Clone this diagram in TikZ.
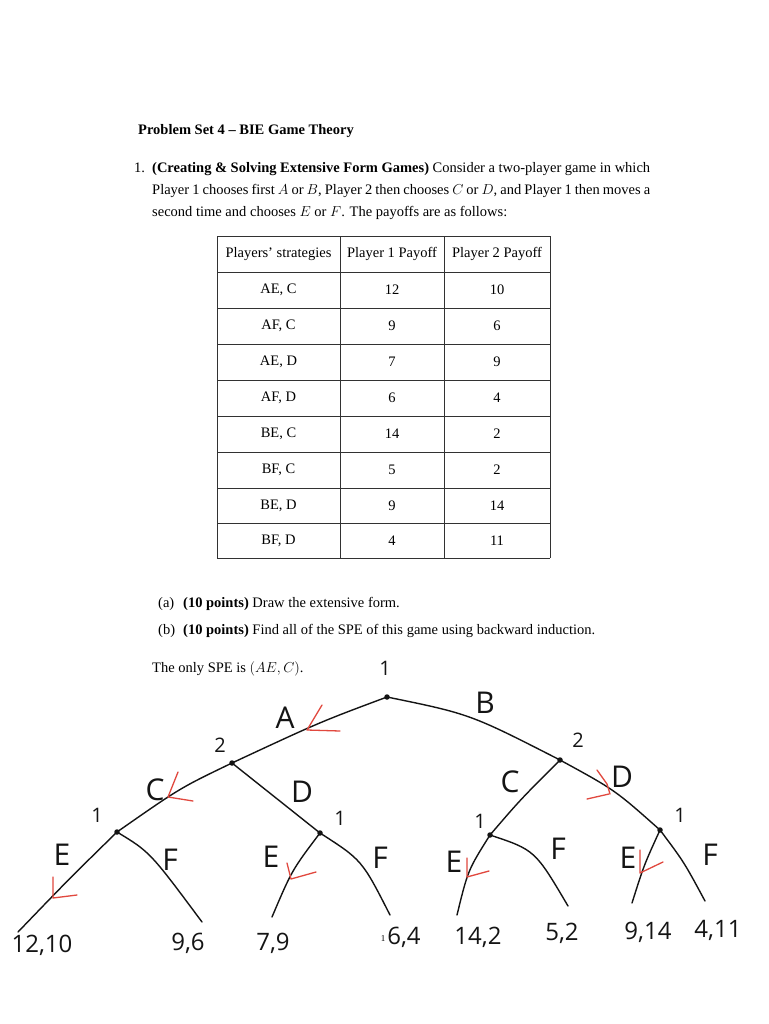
\documentclass[tikz,border=0pt]{standalone}
\usepackage{fontspec}
\setmainfont{Liberation Serif}
\newfontfamily\handfont{Open Sans}
\usepackage{tikz}
\usetikzlibrary{positioning}
\definecolor{pen}{RGB}{20,20,20}
\definecolor{redpen}{RGB}{225,72,62}
\definecolor{rulegray}{RGB}{50,50,50}

\begin{document}
\begin{tikzpicture}[x=1pt,y=-1pt,
  font=\fontsize{14.5}{22}\selectfont,
  line/.style={anchor=base west, inner sep=0pt},
  cell/.style={inner sep=0pt},
  grid/.style={draw=rulegray, line width=0.8pt},
  dot/.style={circle, fill=pen, inner sep=0pt, minimum size=5.5pt},
  edge/.style={draw=pen, line width=1.4pt, line cap=round},
  check/.style={draw=redpen, line width=1.3pt, line cap=round, line join=round},
  hand/.style={font=\handfont\fontsize{30}{30}\selectfont, text=pen, inner sep=0pt},
  who/.style={font=\handfont\fontsize{20}{20}\selectfont, text=pen, inner sep=0pt},
  pay/.style={font=\handfont\fontsize{24}{24}\selectfont, text=pen, inner sep=0pt}
]
\fill[white] (0,0) rectangle (768,1024);
\useasboundingbox (0,0) rectangle (768,1024);

\node[line] (title) at (138,135) {\bfseries Problem Set 4 -- BIE Game Theory};
\node[line] (num) at (134,173) {1.};
\node[line] (l1) at (152,173) {\makebox[498pt][s]{\bfseries (Creating \& Solving Extensive Form Games)\mdseries{} Consider a two-player game in which}};
\node[line] (l2) at (152,195) {\makebox[498pt][s]{Player 1 chooses first $A$ or $B$, Player 2 then chooses $C$ or $D$, and Player 1 then moves a}};
\node[line] (l3) at (152,217) {second time and chooses $E$ or $F$. The payoffs are as follows:};

\foreach \y in {236,272,308,344,380,416,452,488,523,558}
  \draw[grid] (217,\y) -- (550,\y);
\foreach \x in {217,340,444,550}
  \draw[grid] (\x,236) -- (\x,558);
\node[cell] (h1) at (278.5,254) {Players' strategies};
\node[cell] (h2) at (392,254) {Player 1 Payoff};
\node[cell] (h3) at (497,254) {Player 2 Payoff};
\foreach \r/\y/\s/\p/\q in {1/290/{AE, C}/12/10, 2/326/{AF, C}/9/6, 3/362/{AE, D}/7/9, 4/398/{AF, D}/6/4,
  5/434/{BE, C}/14/2, 6/470/{BF, C}/5/2, 7/505.5/{BE, D}/9/14, 8/540.5/{BF, D}/4/11} {
  \node[cell] (s\r) at (278.5,\y) {\s};
  \node[cell] (p\r) at (392,\y) {\p};
  \node[cell] (q\r) at (497,\y) {\q};
}

\node[line] (qa) at (158,607) {(a)};
\node[line] (ta) at (183,607) {\textbf{(10 points)} Draw the extensive form.};
\node[line] (qb) at (158,634) {(b)};
\node[line] (tb) at (183,634) {\textbf{(10 points)} Find all of the SPE of this game using backward induction.};
\node[line] (spe) at (152,672) {The only SPE is $(AE, C)$.};

\node[dot] (r) at (387,697) {};
\node[dot] (a2) at (232,763) {};
\node[dot] (b2) at (560,760) {};
\node[dot] (ac1) at (117,832) {};
\node[dot] (ad1) at (320,833) {};
\node[dot] (bc1) at (490,835) {};
\node[dot] (bd1) at (660,830) {};
\coordinate (ace) at (18,932);
\coordinate (acf) at (202,922);
\coordinate (ade) at (272,917);
\coordinate (adf) at (390,915);
\coordinate (bce) at (457,915);
\coordinate (bcf) at (568,906);
\coordinate (bde) at (632,903);
\coordinate (bdf) at (705,901);

\draw[edge] (r.center) .. controls (320,722) .. (a2.center);
\draw[edge] (r.center) .. controls (470,714) .. (b2.center);
\draw[edge] (a2.center) .. controls (180,788) .. (ac1.center);
\draw[edge] (a2.center) -- (ad1.center);
\draw[edge] (b2.center) .. controls (520,800) .. (bc1.center);
\draw[edge] (b2.center) .. controls (615,790) .. (bd1.center);
\draw[edge] (ac1.center) .. controls (68,880) .. (ace);
\draw[edge] (ac1.center) .. controls (150,852) .. (acf);
\draw[edge] (ad1.center) .. controls (292,870) .. (ade);
\draw[edge] (ad1.center) .. controls (362,860) .. (adf);
\draw[edge] (bc1.center) .. controls (468,870) .. (bce);
\draw[edge] (bc1.center) .. controls (535,850) .. (bcf);
\draw[edge] (bd1.center) .. controls (644,865) .. (bde);
\draw[edge] (bd1.center) .. controls (684,862) .. (bdf);

\foreach \p/\q/\s in {{322,705}/{307,730}/{340,731}, {178,772}/{168,797}/{193,801},
  {53,877}/{53,898}/{77,895}, {287,863}/{291,879}/{316,872},
  {467,858}/{467,877}/{489,871}, {640,850}/{640,873}/{663,862}}
  \draw[check] (\p) -- (\q) -- (\s);
\draw[check] (597,770) -- (607,784) -- (610,794);
\draw[check] (587,799) -- (609,794);

\node[who] (w1) at (385,668) {1};
\node[who] (wa2) at (220,745) {2};
\node[who] (wb2) at (578,740) {2};
\node[who] (wac) at (97,815) {1};
\node[who] (wad) at (340,818) {1};
\node[who] (wbc) at (480,821) {1};
\node[who] (wbd) at (680,815) {1};

\node[hand] (la) at (285,718) {A};
\node[hand] (lb) at (485,703) {B};
\node[hand] (lac) at (155,790) {C};
\node[hand] (lad) at (302,792) {D};
\node[hand] (lbc) at (510,782) {C};
\node[hand] (lbd) at (622,777) {D};
\node[hand] (le1) at (62,855) {E};
\node[hand] (lf1) at (170,860) {F};
\node[hand] (le2) at (271,857) {E};
\node[hand] (lf2) at (380,858) {F};
\node[hand] (le3) at (454,862) {E};
\node[hand] (lf3) at (558,849) {F};
\node[hand] (le4) at (628,858) {E};
\node[hand] (lf4) at (710,855) {F};

\node[pay] (v1) at (42,945) {12,10};
\node[pay] (v2) at (188,943) {9,6};
\node[pay] (v3) at (273,943) {7,9};
\node[cell, font=\fontsize{9}{9}\selectfont] (v4a) at (383,939) {1};
\node[pay] (v4) at (404,937) {6,4};
\node[pay] (v5) at (478,937) {14,2};
\node[pay] (v6) at (562,933) {5,2};
\node[pay] (v7) at (648,932) {9,14};
\node[pay] (v8) at (718,930) {4,11};
\end{tikzpicture}
\end{document}
